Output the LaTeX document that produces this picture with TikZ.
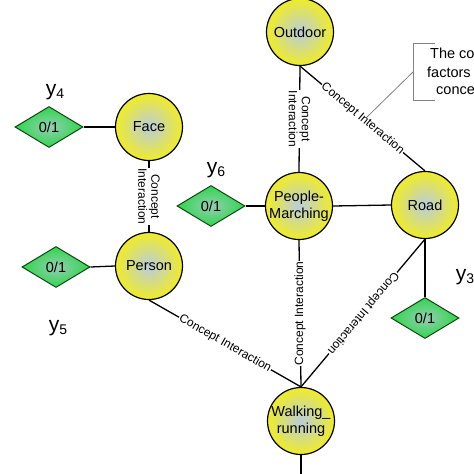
\documentclass[tikz,border=0pt]{standalone}
\usepackage{fontspec}
\setmainfont{Liberation Sans}
\usetikzlibrary{shapes.geometric}
\definecolor{cyel}{RGB}{240,236,40}
\definecolor{cblu}{RGB}{185,205,220}
\definecolor{ggrn}{RGB}{45,215,75}
\definecolor{gctr}{RGB}{150,205,180}
\definecolor{gedge}{RGB}{20,70,20}
\definecolor{callgray}{RGB}{130,130,130}
\tikzset{
  concept/.style={circle, draw=black, line width=1.2pt, minimum size=67pt, inner sep=0pt,
    shading=radial, inner color=cblu, outer color=cyel,
    font=\fontsize{14.5}{17}\selectfont, align=center},
  binbox/.style={diamond, draw=gedge, line width=1pt, minimum width=68pt, minimum height=41pt,
    inner sep=0pt, shading=radial, inner color=gctr, outer color=ggrn,
    font=\fontsize{14.5}{17}\selectfont},
  link/.style={line width=1.3pt, draw=black},
  lbl/.style={fill=white, inner sep=0.8pt, font=\fontsize{12}{13}\selectfont, align=center},
  ylab/.style={inner sep=0pt, font=\fontsize{21}{22}\selectfont},
  calltext/.style={anchor=base west, inner sep=0pt, font=\fontsize{14.5}{17}\selectfont},
  callline/.style={draw=callgray, line width=0.8pt}
}
\newcommand{\ylabel}[1]{y\raisebox{-3pt}{\fontsize{14}{14}\selectfont #1}}
\begin{document}
\begin{tikzpicture}[x=1pt,y=-1pt]
\useasboundingbox (0,0) rectangle (474,474);
\clip (0,0) rectangle (474,474);
\fill[white] (0,0) rectangle (474,474);

% concept nodes
\node[concept] (outdoor) at (300,32) {Outdoor};
\node[concept] (face) at (149,127) {Face};
\node[concept] (person) at (149,266) {Person};
\node[concept] (pm) at (299,206) {People-\\Marching};
\node[concept] (road) at (425,205) {Road};
\node[concept] (walk) at (301,421) {Walking\_\\running};

% binary diamonds
\node[binbox] (d4) at (49,127) {0/1};
\node[binbox] (d5) at (56,267) {0/1};
\node[binbox] (d6) at (211,206) {0/1};
\node[binbox] (d3) at (425,318) {0/1};

% y labels
\node[ylab] (y4) at (55,92) {\ylabel{4}};
\node[ylab] (y5) at (58,328) {\ylabel{5}};
\node[ylab] (y6) at (216,170) {\ylabel{6}};
\node[ylab] (y3) at (465,277) {\ylabel{3}};

\coordinate (bottom) at (301,480);

% connectors
\draw[link] (d4.east) -- (face.west);
\draw[link] (d5.east) -- (person.west);
\draw[link] (d6.east) -- (pm.west);
\draw[link] (pm.east) -- (road.west);
\draw[link] (road.south) -- (d3.north);
\draw[link] (walk.south) -- (bottom);

\draw[link] (face.south) -- node[lbl, rotate=-90] {Concept\\Interaction} (person.north);
\draw[link] (outdoor.south) -- node[lbl, rotate=-90] {Concept\\Interaction} (pm.north);
\draw[link] (outdoor.south) -- node[lbl, sloped] (oclbl) {Concept Interaction} (road.north);
\draw[link] (person.south) -- node[lbl, sloped] {Concept Interaction} (walk.north);
\draw[link] (pm.south) -- node[lbl, rotate=90] {Concept Interaction} (walk.north);
\draw[link] (road.south) -- node[lbl, rotate=-129.8] {Concept Interaction} (walk.north);

% callout
\coordinate (cp) at (367,117);
\coordinate (bt) at (435,43);
\coordinate (bl1) at (413,43);
\coordinate (bl2) at (413,100);
\coordinate (bb) at (435,100);
\coordinate (bm) at (413,72);
\draw[callline] (bt) -- (bl1) -- (bl2) -- (bb);
\draw[callline] (bm) -- (cp);
\node[calltext] (ct1) at (430,58) {The co};
\node[calltext] (ct2) at (427,77) {factors};
\node[calltext] (ct3) at (436,94) {conce};
\end{tikzpicture}
\end{document}
